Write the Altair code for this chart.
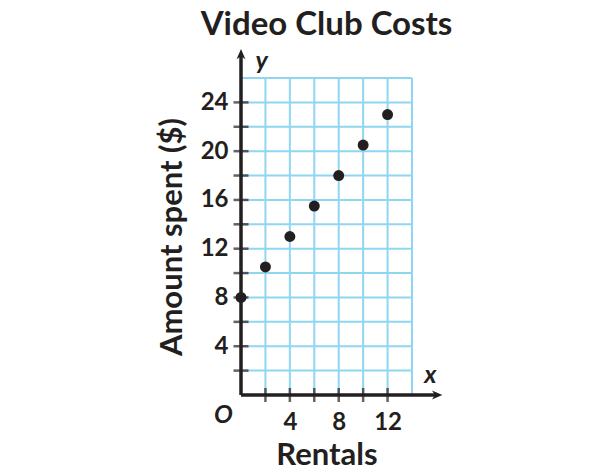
import altair as alt
import pandas as pd

# data
rentals = [0, 2, 4, 6, 8, 10, 12]
amounts = [8, 10.5, 13, 15.5, 18, 20.5, 23]

x_label_values = [4, 8, 12]
y_label_values = [4, 8, 12, 16, 20, 24]

grid_x = [2, 4, 6, 8, 10, 12, 14]
grid_y = [2, 4, 6, 8, 10, 12, 14, 16, 18, 20, 22, 24, 26]

tick_x = [2, 4, 6, 8, 10, 12]
tick_y = [2, 4, 6, 8, 10, 12, 14, 16, 18, 20, 22, 24]

X_MAX, Y_MAX = 14, 26
x_axis_end = 16.0
y_axis_end = 27.9

ann_text = ["x", "y", "O"]
ann_x = [15.5, 1.7, -1.45]
ann_y = [1.6, 27.4, -1.6]

FONT = "Lato"
INK = "#231f20"
GRID = "#8fd6f2"

xs = alt.Scale(domain=[0, X_MAX], nice=False, zero=False)
ys = alt.Scale(domain=[0, Y_MAX], nice=False, zero=False)

pts = pd.DataFrame({"x": rentals, "y": amounts})
vgrid = pd.DataFrame({"x": grid_x, "y": [0] * len(grid_x), "y2": [Y_MAX] * len(grid_x)})
hgrid = pd.DataFrame({"y": grid_y, "x": [0] * len(grid_y), "x2": [X_MAX] * len(grid_y)})
xticks = pd.DataFrame({"x": tick_x, "y": [0] * len(tick_x)})
yticks = pd.DataFrame({"y": tick_y, "x": [0] * len(tick_y)})
xaxis = pd.DataFrame({"x": [0], "x2": [x_axis_end], "y": [0]})
yaxis = pd.DataFrame({"y": [0], "y2": [y_axis_end], "x": [0]})
xarrow = pd.DataFrame({"x": [x_axis_end], "y": [0]})
yarrow = pd.DataFrame({"x": [0], "y": [y_axis_end]})
ann = pd.DataFrame({"t": ann_text, "x": ann_x, "y": ann_y})

AX_X = alt.Axis(
    values=x_label_values, title="Rentals", domain=False, ticks=False, grid=False,
    labelFont=FONT, labelFontWeight="bold", labelFontSize=24, labelColor=INK,
    labelPadding=15, titleFont=FONT, titleFontWeight="bold", titleFontSize=31,
    titleColor=INK, titlePadding=6)
AX_Y = alt.Axis(
    values=y_label_values, title="Amount spent ($)", domain=False, ticks=False, grid=False,
    labelFont=FONT, labelFontWeight="bold", labelFontSize=24, labelColor=INK,
    labelPadding=13, titleFont=FONT, titleFontWeight="bold", titleFontSize=31,
    titleColor=INK, titlePadding=12)

X = alt.X("x:Q", scale=xs, axis=AX_X)
Y = alt.Y("y:Q", scale=ys, axis=AX_Y)

vg = alt.Chart(vgrid).mark_rule(color=GRID, strokeWidth=2).encode(x=X, y=Y, y2="y2:Q")
hg = alt.Chart(hgrid).mark_rule(color=GRID, strokeWidth=2).encode(y=Y, x=X, x2="x2:Q")

xa = alt.Chart(xaxis).mark_rule(color=INK, strokeWidth=3.5).encode(x=X, x2="x2:Q", y=Y)
ya = alt.Chart(yaxis).mark_rule(color=INK, strokeWidth=3.5).encode(y=Y, y2="y2:Q", x=X)

arrow_up = "M0,-1L0.75,0.75L0,0.25L-0.75,0.75Z"
arrow_right = "M1,0L-0.75,0.75L-0.25,0L-0.75,-0.75Z"
xar = alt.Chart(xarrow).mark_point(shape=arrow_right, filled=True, color=INK,
                                   opacity=1, size=140).encode(x=X, y=Y)
yar = alt.Chart(yarrow).mark_point(shape=arrow_up, filled=True, color=INK,
                                   opacity=1, size=140).encode(x=X, y=Y)

xt = alt.Chart(xticks).mark_tick(color=INK, thickness=2.5, size=14, orient="vertical").encode(
    x=X, y=Y)
yt = alt.Chart(yticks).mark_tick(color=INK, thickness=2.5, size=15, orient="horizontal").encode(
    x=X, y=Y)

dots = alt.Chart(pts).mark_circle(color=INK, size=120, opacity=1).encode(x=X, y=Y)

txt = alt.Chart(ann).mark_text(font=FONT, fontStyle="italic", fontWeight="bold",
                               fontSize=25, color=INK).encode(x=X, y=Y, text="t:N")

chart = alt.layer(vg, hg, xa, ya, xar, yar, xt, yt, dots, txt).properties(
    width=171, height=317,
    title=alt.TitleParams("Video Club Costs", font=FONT, fontWeight="bold", fontSize=33,
                          color=INK, anchor="middle", frame="group", offset=7),
    autosize=alt.AutoSizeParams(type="none"),
    padding={"left": 233, "top": 70, "right": 180, "bottom": 78},
).configure_view(stroke=None)

chart.save("out.html", embed_options={"renderer": "svg", "actions": False})
